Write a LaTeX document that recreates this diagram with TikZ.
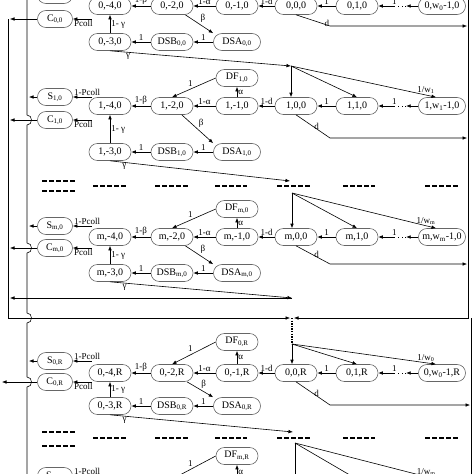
\documentclass[tikz,border=0pt]{standalone}
\usepackage{fontspec}
\setmainfont{Liberation Serif}
\usetikzlibrary{positioning,arrows.meta}

\begin{document}
\begin{tikzpicture}
[x=1pt,y=-1pt,line width=0.6pt,
 >={Latex[length=4.5pt,width=3.6pt]},
 st/.style={rectangle,draw=black!60,rounded corners=8.4pt,minimum width=42pt,minimum height=17pt,inner xsep=2pt,inner ysep=1pt,font=\fontsize{10}{12}\selectfont},
 wide/.style={minimum width=47pt},
 sc/.style={st,minimum width=35pt},
 lbl/.style={inner sep=1pt,font=\fontsize{9}{10}\selectfont},
 gapline/.style={line width=1.8pt,dash pattern=on 4.5pt off 2.6pt},
 dotline/.style={line width=1.3pt,dash pattern=on 1.3pt off 1.3pt},
 omit/.style={dash pattern=on 0.8pt off 3pt}]
\useasboundingbox (0,0) rectangle (474,474);
\begin{scope}
\clip (0,0) rectangle (474,474);

% frame points
\coordinate (lft)   at (10,0);
\coordinate (okl)   at (29,0);
\coordinate (edgeL) at (2,0);
\coordinate (rgt)   at (467,0);
\coordinate (rgtR)  at (470,0);
\coordinate (lfTop) at (8,19);
\coordinate (lfBot) at (8,318);
\coordinate (rtTop) at (468,-10);
\coordinate (rtBot) at (468,318);
\coordinate (mid)   at (292,318);
\coordinate (jB) at (291,66);
\coordinate (gB) at (290,181);
\coordinate (jC) at (292,193);
\coordinate (gC) at (292,298);
\coordinate (jD) at (292,344);
\coordinate (gD) at (293,432);
\coordinate (jE) at (295,443);
\coordinate (dA) at (330,26);
\coordinate (dB) at (330,138);
\coordinate (dC) at (330,264);
\coordinate (dD) at (330,405);

% block 0,0
\node[st] (n0A) at (296,6) {0,0,0};
\node[st] (n1A) [on grid,left=59pt of n0A] {0,-1,0};
\node[st] (n2A) [on grid,left=65pt of n1A] {0,-2,0};
\node[st] (n4A) [on grid,left=62pt of n2A] {0,-4,0};
\node[st] (p1A) [on grid,right=61pt of n0A] {0,1,0};
\node[st,wide] (pwA) [on grid,right=146pt of n0A] {0,w\textsubscript{0}-1,0};
\node[st] (dfA) [on grid,above=29pt of n1A] {DF\textsubscript{0,0}};
\node[st,wide] (dsaA) [on grid,below=36pt of n1A] {DSA\textsubscript{0,0}};
\node[st] (dsbA) [on grid,below=36pt of n2A] {DSB\textsubscript{0,0}};
\node[st] (n3A) [on grid,below=36pt of n4A] {0,-3,0};
\node[sc] (sA) [on grid,above left=11pt and 55pt of n4A] {S\textsubscript{0,0}};
\node[sc] (cA) [on grid,below left=13pt and 55pt of n4A] {C\textsubscript{0,0}};
\draw[->] (n1A) -- node[lbl,above] {1-α} (n2A);
\draw[->] (n1A) -- node[lbl,right] {α} (dfA);
\draw[->] (dfA.west) -- node[lbl,above left] {1} (n2A.north);
\draw[->] (n2A) -- node[lbl,above] {1-β} (n4A);
\draw[->] (n2A) -- node[lbl,above right] {β} (dsaA.north west);
\draw[->] (dsaA) -- node[lbl,above] {1} (dsbA);
\draw[->] (dsbA) -- node[lbl,above] {1} (n3A);
\draw[->] (n3A) -- node[lbl,right] {1- γ} (n4A);
\draw[->] ([xshift=3pt]n4A.west |- sA) -- node[lbl,pos=1,above right] {1-Pcoll} (sA);
\draw[->] ([xshift=3pt]n4A.west |- cA) -- node[lbl,pos=1,below right] {Pcoll} (cA);
\draw[->] (n0A) -- node[lbl,above] {1-d} (n1A);
\draw[->] (p1A) -- node[lbl,above] {1} (n0A);
\draw[->] (pwA) -- ([xshift=-12pt]pwA.west);
\draw[omit] ([xshift=-12pt]pwA.west) -- ([xshift=16pt]p1A.east);
\draw[->] ([xshift=16pt]p1A.east) -- node[lbl,pos=0,above] {1} (p1A);
\draw[->] (n0A.south) -- node[lbl,pos=0.8,right] {d} (dA) -- (dA -| rgt);
\draw[->] (n3A.south) -- node[lbl,pos=0.1,below] {γ} (jB);
\draw[->] (sA) -- (sA -| okl);
\draw[->] (cA) -- (cA -| lft);

% block 1,0
\node[st] (n0B) at (296,106) {1,0,0};
\node[st] (n1B) [on grid,left=59pt of n0B] {1,-1,0};
\node[st] (n2B) [on grid,left=65pt of n1B] {1,-2,0};
\node[st] (n4B) [on grid,left=62pt of n2B] {1,-4,0};
\node[st] (p1B) [on grid,right=61pt of n0B] {1,1,0};
\node[st,wide] (pwB) [on grid,right=146pt of n0B] {1,w\textsubscript{1}-1,0};
\node[st] (dfB) [on grid,above=28pt of n1B] {DF\textsubscript{1,0}};
\node[st,wide] (dsaB) [on grid,below=46pt of n1B] {DSA\textsubscript{1,0}};
\node[st] (dsbB) [on grid,below=46pt of n2B] {DSB\textsubscript{1,0}};
\node[st] (n3B) [on grid,below=46pt of n4B] {1,-3,0};
\node[sc] (sB) [on grid,above left=9pt and 55pt of n4B] {S\textsubscript{1,0}};
\node[sc] (cB) [on grid,below left=14pt and 55pt of n4B] {C\textsubscript{1,0}};
\draw[->] (n1B) -- node[lbl,above] {1-α} (n2B);
\draw[->] (n1B) -- node[lbl,right] {α} (dfB);
\draw[->] (dfB.west) -- node[lbl,above left] {1} (n2B.north);
\draw[->] (n2B) -- node[lbl,above] {1-β} (n4B);
\draw[->] (n2B) -- node[lbl,above right] {β} (dsaB.north west);
\draw[->] (dsaB) -- node[lbl,above] {1} (dsbB);
\draw[->] (dsbB) -- node[lbl,above] {1} (n3B);
\draw[->] (n3B) -- node[lbl,right] {1- γ} (n4B);
\draw[->] ([xshift=3pt]n4B.west |- sB) -- node[lbl,pos=1,above right] {1-Pcoll} (sB);
\draw[->] ([xshift=3pt]n4B.west |- cB) -- node[lbl,pos=1,below right] {Pcoll} (cB);
\draw[->] (n0B) -- node[lbl,above] {1-d} (n1B);
\draw[->] (p1B) -- node[lbl,above] {1} (n0B);
\draw[->] (pwB) -- ([xshift=-12pt]pwB.west);
\draw[omit] ([xshift=-12pt]pwB.west) -- ([xshift=16pt]p1B.east);
\draw[->] ([xshift=16pt]p1B.east) -- node[lbl,pos=0,above] {1} (p1B);
\draw[->] (n0B.south) -- node[lbl,right] {d} (dB) -- (dB -| rgt);
\draw[->] (jB) -- (jB |- n0B.north);
\draw[->] (jB) -- (p1B.north);
\draw[->] (jB) -- node[lbl,pos=0.93,above] {1/w\textsubscript{1}} ([xshift=-6pt]pwB.north);
\draw[->] (n3B.south) -- node[lbl,pos=0.08,below] {γ} (gB);
\draw[->] (sB) -- (sB -| okl);
\draw[->] (cB) -- (cB -| lft);

% omitted blocks
\draw[gapline] (42,181) -- (75,181) (42,191) -- (75,191) (93,186) -- (127,186)
  (155,186) -- (188,186) (215,186) -- (247,186) (277,186) -- (310,186)
  (343,186) -- (375,186) (425,186) -- (458,186);

% block m,0
\node[st] (n0C) at (296,237) {m,0,0};
\node[st] (n1C) [on grid,left=59pt of n0C] {m,-1,0};
\node[st] (n2C) [on grid,left=65pt of n1C] {m,-2,0};
\node[st] (n4C) [on grid,left=62pt of n2C] {m,-4,0};
\node[st] (p1C) [on grid,right=61pt of n0C] {m,1,0};
\node[st,wide] (pwC) [on grid,right=146pt of n0C] {m,w\textsubscript{m}-1,0};
\node[st] (dfC) [on grid,above=28pt of n1C] {DF\textsubscript{m,0}};
\node[st,wide] (dsaC) [on grid,below=36pt of n1C] {DSA\textsubscript{m,0}};
\node[st] (dsbC) [on grid,below=36pt of n2C] {DSB\textsubscript{m,0}};
\node[st] (n3C) [on grid,below=36pt of n4C] {m,-3,0};
\node[sc] (sC) [on grid,above left=11pt and 55pt of n4C] {S\textsubscript{m,0}};
\node[sc] (cC) [on grid,below left=11pt and 55pt of n4C] {C\textsubscript{m,0}};
\draw[->] (n1C) -- node[lbl,above] {1-α} (n2C);
\draw[->] (n1C) -- node[lbl,right] {α} (dfC);
\draw[->] (dfC.west) -- node[lbl,above left] {1} (n2C.north);
\draw[->] (n2C) -- node[lbl,above] {1-β} (n4C);
\draw[->] (n2C) -- node[lbl,above right] {β} (dsaC.north west);
\draw[->] (dsaC) -- node[lbl,above] {1} (dsbC);
\draw[->] (dsbC) -- node[lbl,above] {1} (n3C);
\draw[->] (n3C) -- node[lbl,right] {1- γ} (n4C);
\draw[->] ([xshift=3pt]n4C.west |- sC) -- node[lbl,pos=1,above right] {1-Pcoll} (sC);
\draw[->] ([xshift=3pt]n4C.west |- cC) -- node[lbl,pos=1,below right] {Pcoll} (cC);
\draw[->] (n0C) -- node[lbl,above] {1-d} (n1C);
\draw[->] (p1C) -- node[lbl,above] {1} (n0C);
\draw[->] (pwC) -- ([xshift=-12pt]pwC.west);
\draw[omit] ([xshift=-12pt]pwC.west) -- ([xshift=16pt]p1C.east);
\draw[->] ([xshift=16pt]p1C.east) -- node[lbl,pos=0,above] {1} (p1C);
\draw[->] (n0C.south) -- node[lbl,right] {d} (dC) -- (dC -| rgt);
\draw[->] (jC) -- (jC |- n0C.north);
\draw[->] (jC) -- (p1C.north);
\draw[->] (jC) -- node[lbl,pos=0.93,above] {1/w\textsubscript{m}} ([xshift=-6pt]pwC.north);
\draw[->] (n3C.south) -- node[lbl,pos=0.08,below] {γ} (gC);
\draw[->] (gC) -- (gC -| lft);
\draw[->] (sC) -- (sC -| okl);
\draw[->] (cC) -- (cC -| lft);

% frame
\draw (27,-10) -- (27,115) .. controls (33,115) and (33,125) .. (27,125)
  -- (27,243) .. controls (33,243) and (33,253) .. (27,253)
  -- (27,313) .. controls (33,313) and (33,323) .. (27,323)
  -- (27,377) .. controls (33,377) and (33,387) .. (27,387) -- (27,474);
\draw[->] (lfTop) -- (lfBot) -- ([xshift=-2pt]mid);
\draw[->] (rtTop) -- (rtBot) -- ([xshift=2pt]mid);
\draw[dotline] (mid) -- (jD);

% block 0,R
\node[st] (n0D) at (296,373) {0,0,R};
\node[st] (n1D) [on grid,left=59pt of n0D] {0,-1,R};
\node[st] (n2D) [on grid,left=65pt of n1D] {0,-2,R};
\node[st] (n4D) [on grid,left=62pt of n2D] {0,-4,R};
\node[st] (p1D) [on grid,right=61pt of n0D] {0,1,R};
\node[st,wide] (pwD) [on grid,right=146pt of n0D] {0,w\textsubscript{0}-1,R};
\node[st] (dfD) [on grid,above=31pt of n1D] {DF\textsubscript{0,R}};
\node[st,wide] (dsaD) [on grid,below=33pt of n1D] {DSA\textsubscript{0,R}};
\node[st] (dsbD) [on grid,below=33pt of n2D] {DSB\textsubscript{0,R}};
\node[st] (n3D) [on grid,below=33pt of n4D] {0,-3,R};
\node[sc] (sD) [on grid,above left=12pt and 55pt of n4D] {S\textsubscript{0,R}};
\node[sc] (cD) [on grid,below left=9pt and 55pt of n4D] {C\textsubscript{0,R}};
\draw[->] (n1D) -- node[lbl,above] {1-α} (n2D);
\draw[->] (n1D) -- node[lbl,right] {α} (dfD);
\draw[->] (dfD.west) -- node[lbl,above left] {1} (n2D.north);
\draw[->] (n2D) -- node[lbl,above] {1-β} (n4D);
\draw[->] (n2D) -- node[lbl,above right] {β} (dsaD.north west);
\draw[->] (dsaD) -- node[lbl,above] {1} (dsbD);
\draw[->] (dsbD) -- node[lbl,above] {1} (n3D);
\draw[->] (n3D) -- node[lbl,right] {1- γ} (n4D);
\draw[->] ([xshift=3pt]n4D.west |- sD) -- node[lbl,pos=1,above right] {1-Pcoll} (sD);
\draw[->] ([xshift=3pt]n4D.west |- cD) -- node[lbl,pos=1,below right] {Pcoll} (cD);
\draw[->] (n0D) -- node[lbl,above] {1-d} (n1D);
\draw[->] (p1D) -- node[lbl,above] {1} (n0D);
\draw[->] (pwD) -- ([xshift=-12pt]pwD.west);
\draw[omit] ([xshift=-12pt]pwD.west) -- ([xshift=16pt]p1D.east);
\draw[->] ([xshift=16pt]p1D.east) -- node[lbl,pos=0,above] {1} (p1D);
\draw[->] (n0D.south) -- node[lbl,right] {d} (dD) -- (dD -| rgtR);
\draw[->] (jD) -- (jD |- n0D.north);
\draw[->] (jD) -- (p1D.north);
\draw[->] (jD) -- node[lbl,pos=0.93,above] {1/w\textsubscript{0}} ([xshift=-6pt]pwD.north);
\draw[->] (n3D.south) -- node[lbl,pos=0.08,below] {γ} (gD);
\draw[->] (sD) -- (sD -| okl);
\draw[->] (cD) -- (cD -| edgeL);

% omitted blocks
\draw[gapline] (42,432) -- (75,432) (42,446) -- (75,446) (93,438) -- (127,438)
  (155,438) -- (188,438) (215,438) -- (247,438) (277,438) -- (310,438)
  (343,438) -- (375,438) (425,438) -- (458,438);

% block m,R
\node[st] (n0E) at (296,488) {m,0,R};
\node[st] (n1E) [on grid,left=59pt of n0E] {m,-1,R};
\node[st] (n2E) [on grid,left=65pt of n1E] {m,-2,R};
\node[st] (p1E) [on grid,right=61pt of n0E] {m,1,R};
\node[st,wide] (pwE) [on grid,right=146pt of n0E] {m,w\textsubscript{m}-1,R};
\node[st] (dfE) [on grid,above=32pt of n1E] {DF\textsubscript{m,R}};
\node[st] (n4E) [on grid,left=62pt of n2E] {m,-4,R};
\node[sc] (sE) [on grid,above left=12pt and 55pt of n4E] {S\textsubscript{m,R}};
\draw[->] (n1E) -- node[lbl,right] {α} (dfE);
\draw[->] (dfE.west) -- node[lbl,above left] {1} (n2E.north);
\draw[->] ([xshift=3pt]n4E.west |- sE) -- node[lbl,pos=1,above right] {1-Pcoll} (sE);
\draw[->] (sE) -- (sE -| okl);
\draw[->] (jE) -- (jE |- n0E.north);
\draw[->] (jE) -- (p1E.north);
\draw[->] (jE) -- node[lbl,pos=0.93,above] {1/w\textsubscript{m}} ([xshift=-6pt]pwE.north);
\end{scope}
\draw (471,318) -- (471,474);
\end{tikzpicture}
\end{document}
